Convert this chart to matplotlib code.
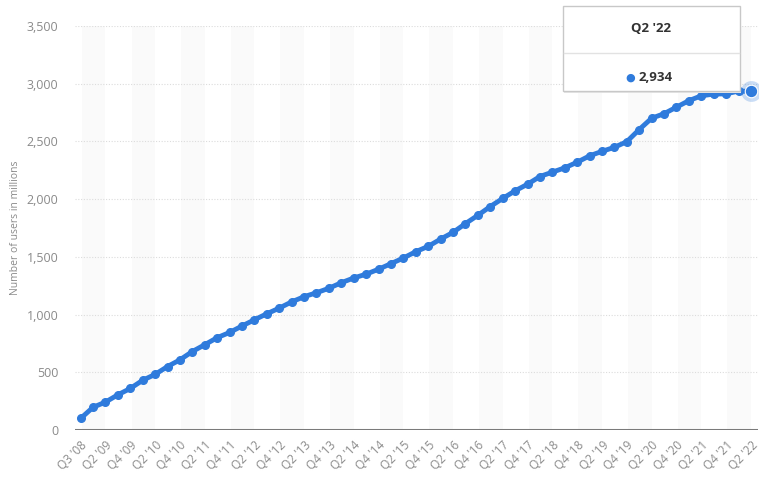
import numpy as np
import matplotlib
matplotlib.use("Agg")
import matplotlib.pyplot as plt
from matplotlib.patches import Rectangle

plt.rcParams["font.family"] = ["Open Sans", "DejaVu Sans"]

quarters = ["Q3 '08", "Q1 '09", "Q2 '09", "Q3 '09", "Q4 '09",
            "Q1 '10", "Q2 '10", "Q3 '10", "Q4 '10",
            "Q1 '11", "Q2 '11", "Q3 '11", "Q4 '11",
            "Q1 '12", "Q2 '12", "Q3 '12", "Q4 '12",
            "Q1 '13", "Q2 '13", "Q3 '13", "Q4 '13",
            "Q1 '14", "Q2 '14", "Q3 '14", "Q4 '14",
            "Q1 '15", "Q2 '15", "Q3 '15", "Q4 '15",
            "Q1 '16", "Q2 '16", "Q3 '16", "Q4 '16",
            "Q1 '17", "Q2 '17", "Q3 '17", "Q4 '17",
            "Q1 '18", "Q2 '18", "Q3 '18", "Q4 '18",
            "Q1 '19", "Q2 '19", "Q3 '19", "Q4 '19",
            "Q1 '20", "Q2 '20", "Q3 '20", "Q4 '20",
            "Q1 '21", "Q2 '21", "Q3 '21", "Q4 '21",
            "Q1 '22", "Q2 '22"]
users = [100, 197, 242, 305, 360,
         431, 482, 550, 608,
         680, 739, 800, 845,
         901, 955, 1007, 1056,
         1110, 1155, 1189, 1228,
         1276, 1317, 1350, 1393,
         1441, 1490, 1545, 1591,
         1654, 1712, 1788, 1860,
         1936, 2006, 2072, 2129,
         2196, 2234, 2271, 2320,
         2375, 2414, 2449, 2498,
         2603, 2701, 2740, 2797,
         2853, 2895, 2910, 2912,
         2936, 2934]
y_ticks = [0, 500, 1000, 1500, 2000, 2500, 3000, 3500]

blue = "#2f7bdc"
grey = "#8a8a8a"
x = np.arange(len(users))

fig = plt.figure(figsize=(7.68, 4.9), dpi=100)
ax = fig.add_axes([0.0977, 0.1224, 0.889, 0.8246])

# alternating background bands
for start in range(0, len(users), 4):
    ax.axvspan(start + 0.1, start + 2, color="#fafafa", zorder=0, lw=0)

for t in y_ticks[1:]:
    ax.axhline(t, color="#dcdcdc", lw=0.8, ls=(0, (1, 1.5)), zorder=1)
ax.axhline(0, color="#7a7a7a", lw=2.2, zorder=2)

ax.plot(x, users, color=blue, lw=3.5, marker="o", ms=5.5, zorder=3)
ax.plot(x[-1], users[-1], "o", color=blue, ms=15, alpha=0.25, mec="none", zorder=4)
ax.plot(x[-1], users[-1], "o", color=blue, ms=9, mec="white", mew=0.8, zorder=5)

ax.set_xlim(-0.45, len(users) - 0.45)
ax.set_ylim(0, 3500)
ax.set_yticks(y_ticks)
ax.set_yticklabels([f"{t:,}" for t in y_ticks])
ax.set_xticks(x[::2])
ax.set_xticklabels(quarters[::2], rotation=45, ha="right", va="top",
                   rotation_mode="anchor")
ax.tick_params(axis="both", length=0, colors=grey, labelsize=8.5)
ax.tick_params(axis="y", pad=12, labelsize=9)
ax.tick_params(axis="x", pad=6)
ax.set_ylabel("Number of users in millions", color=grey, fontsize=7.5, labelpad=4)
for s in ax.spines.values():
    s.set_visible(False)

# tooltip box
fig.add_artist(Rectangle((0.7345, 0.8100), 0.2305, 0.1735, transform=fig.transFigure,
                         facecolor="#e6e6e6", edgecolor="none", zorder=9))
fig.add_artist(Rectangle((0.7331, 0.8143), 0.2305, 0.1735, transform=fig.transFigure,
                         facecolor="white", edgecolor="#c8c8c8", lw=1, zorder=10))
fig.add_artist(plt.Line2D([0.7345, 0.9622], [0.8918, 0.8918], transform=fig.transFigure,
                          color="#e2e2e2", lw=1, zorder=11))
fig.text(0.848, 0.941, quarters[-1], ha="center", va="center", fontsize=9.5,
         fontweight="bold", color="#333333", zorder=12)
fig.text(0.821, 0.841, "●", ha="center", va="center", fontsize=8, color=blue, zorder=12,
         family="DejaVu Sans")
fig.text(0.831, 0.841, f"{users[-1]:,}", ha="left", va="center", fontsize=9.5,
         fontweight="bold", color="#333333", zorder=12)

fig.savefig("out.png", dpi=100)
